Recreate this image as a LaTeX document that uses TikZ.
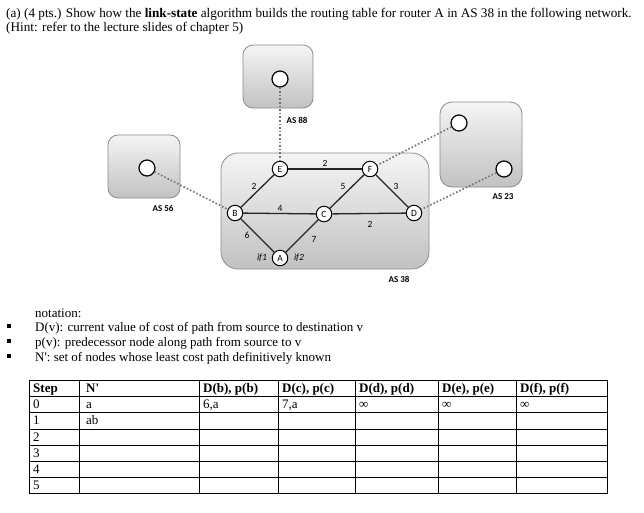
\documentclass[tikz,border=0pt]{standalone}
\usepackage{fontspec}
\setmainfont{Liberation Serif}
\newfontfamily\carl{Carlito}
\begin{document}
\begin{tikzpicture}[x=1pt,y=-1pt,
  asbox/.style={draw=black!45,line width=0.8pt,top color=black!4,bottom color=black!24},
  router/.style={circle,draw=black,line width=1pt,fill=white,minimum size=15.5pt,inner sep=0pt,font=\carl\fontsize{9.5}{10}\selectfont},
  outer/.style={circle,draw=black,line width=1.2pt,fill=white,minimum size=16pt,inner sep=0pt},
  link/.style={line width=1.3pt,black!85},
  interlink/.style={line width=1.6pt,black!55,dotted},
  cost/.style={font=\carl\fontsize{9.5}{10}\selectfont,inner sep=0pt},
  aslabel/.style={font=\carl\bfseries\fontsize{9}{10}\selectfont,inner sep=0pt},
  txt/.style={anchor=base west,inner sep=0pt,font=\fontsize{13}{15}\selectfont},
  cell/.style={anchor=base west,inner sep=0pt,font=\fontsize{13}{15}\selectfont},
  hcell/.style={cell,font=\bfseries\fontsize{13}{15}\selectfont},
  tline/.style={line width=0.9pt,black}]
\useasboundingbox (0,0) rectangle (644,512);
\fill[white] (0,0) rectangle (644,512);
% title
\node[txt,font=\fontsize{13.2}{15}\selectfont] (t1) at (6,17) {(a) (4 pts.) Show how the \textbf{link-state} algorithm builds the routing table for router A in AS 38 in the following network.};
\node[txt,font=\fontsize{13.2}{15}\selectfont] (t2) at (6,31) {(Hint: refer to the lecture slides of chapter 5)};
% AS boxes
\draw[asbox,rounded corners=10pt] (243,45) rectangle (313,108);
\draw[asbox,rounded corners=10pt] (108,135) rectangle (180,198);
\draw[asbox,rounded corners=17pt] (221,153) rectangle (429,269);
\draw[asbox,rounded corners=12pt] (440,102) rectangle (522,187);
\node[aslabel] (l88) at (297,120) {AS 88};
\node[aslabel] (l56) at (163,208) {AS 56};
\node[aslabel] (l23) at (503,197) {AS 23};
\node[aslabel] (l38) at (399,279) {AS 38};
% routers
\node[router] (E) at (280,169) {E};
\node[router] (F) at (370,169) {F};
\node[router] (B) at (235,213) {B};
\node[router] (C) at (324,214) {C};
\node[router] (D) at (414,213) {D};
\node[router] (A) at (280,258) {A};
\node[outer] (o88) at (280,79) {};
\node[outer] (o56) at (147,168) {};
\node[outer] (o23a) at (459,123) {};
\node[outer] (o23b) at (504,169) {};
% inter-AS links
\draw[interlink] (o88) -- (E);
\draw[interlink] (o56) -- (B);
\draw[interlink] (o23a) -- (F);
\draw[interlink] (o23b) -- (D);
% links
\draw[link] (E) -- (F);
\draw[link] (B) -- (E);
\draw[link] (B) -- (C);
\draw[link] (C) -- (F);
\draw[link] (F) -- (D);
\draw[link] (C) -- (D);
\draw[link] (B) -- (A);
\draw[link] (C) -- (A);
\node[cost] (cEF) at (325,163) {2};
\node[cost] (cBE) at (254,186) {2};
\node[cost] (cBC) at (280,208) {4};
\node[cost] (cCF) at (343,186) {5};
\node[cost] (cFD) at (396,186) {3};
\node[cost] (cCD) at (370,224) {2};
\node[cost] (cBA) at (247,235) {6};
\node[cost] (cCA) at (314,239) {7};
\node[cost,font=\carl\itshape\fontsize{9.5}{10}\selectfont] (if1) at (262,258) {if1};
\node[cost,font=\carl\itshape\fontsize{9.5}{10}\selectfont] (if2) at (299,258) {if2};
% notation
\node[txt] (n0) at (35,317) {notation:};
\node[txt] (n1) at (35,331) {D(v): current value of cost of path from source to destination v};
\node[txt] (n2) at (35,346) {p(v): predecessor node along path from source to v};
\node[txt] (n3) at (35,361) {N\textquotesingle: set of nodes whose least cost path definitively known};
\fill (7,324) rectangle (11,328);
\fill (7,339) rectangle (11,343);
\fill (7,354) rectangle (11,358);
% table
\foreach \y in {380,396,412,429,445,461,477,493} \draw[tline] (28.5,\y) -- (607.5,\y);
\foreach \x in {29,79,199,278,355,438,516,607} \draw[tline] (\x,379.5) -- (\x,493.5);
\node[hcell] (h1) at (33,392) {Step};
\node[hcell] (h2) at (86,392) {N\textquotesingle};
\node[hcell] (h3) at (203,392) {D(b), p(b)};
\node[hcell] (h4) at (282,392) {D(c), p(c)};
\node[hcell] (h5) at (359,392) {D(d), p(d)};
\node[hcell] (h6) at (442,392) {D(e), p(e)};
\node[hcell] (h7) at (520,392) {D(f), p(f)};
\node[cell] (s0) at (33,408) {0};
\node[cell] (s1) at (33,424) {1};
\node[cell] (s2) at (33,441) {2};
\node[cell] (s3) at (33,457) {3};
\node[cell] (s4) at (33,473) {4};
\node[cell] (s5) at (33,489) {5};
\node[cell] (na) at (86,408) {a};
\node[cell] (nab) at (86,424) {ab};
\node[cell] (b0) at (203,408) {6,a};
\node[cell] (c0) at (282,408) {7,a};
\node[cell] (d0) at (359,408) {∞};
\node[cell] (e0) at (442,408) {∞};
\node[cell] (f0) at (520,408) {∞};
\end{tikzpicture}
\end{document}
